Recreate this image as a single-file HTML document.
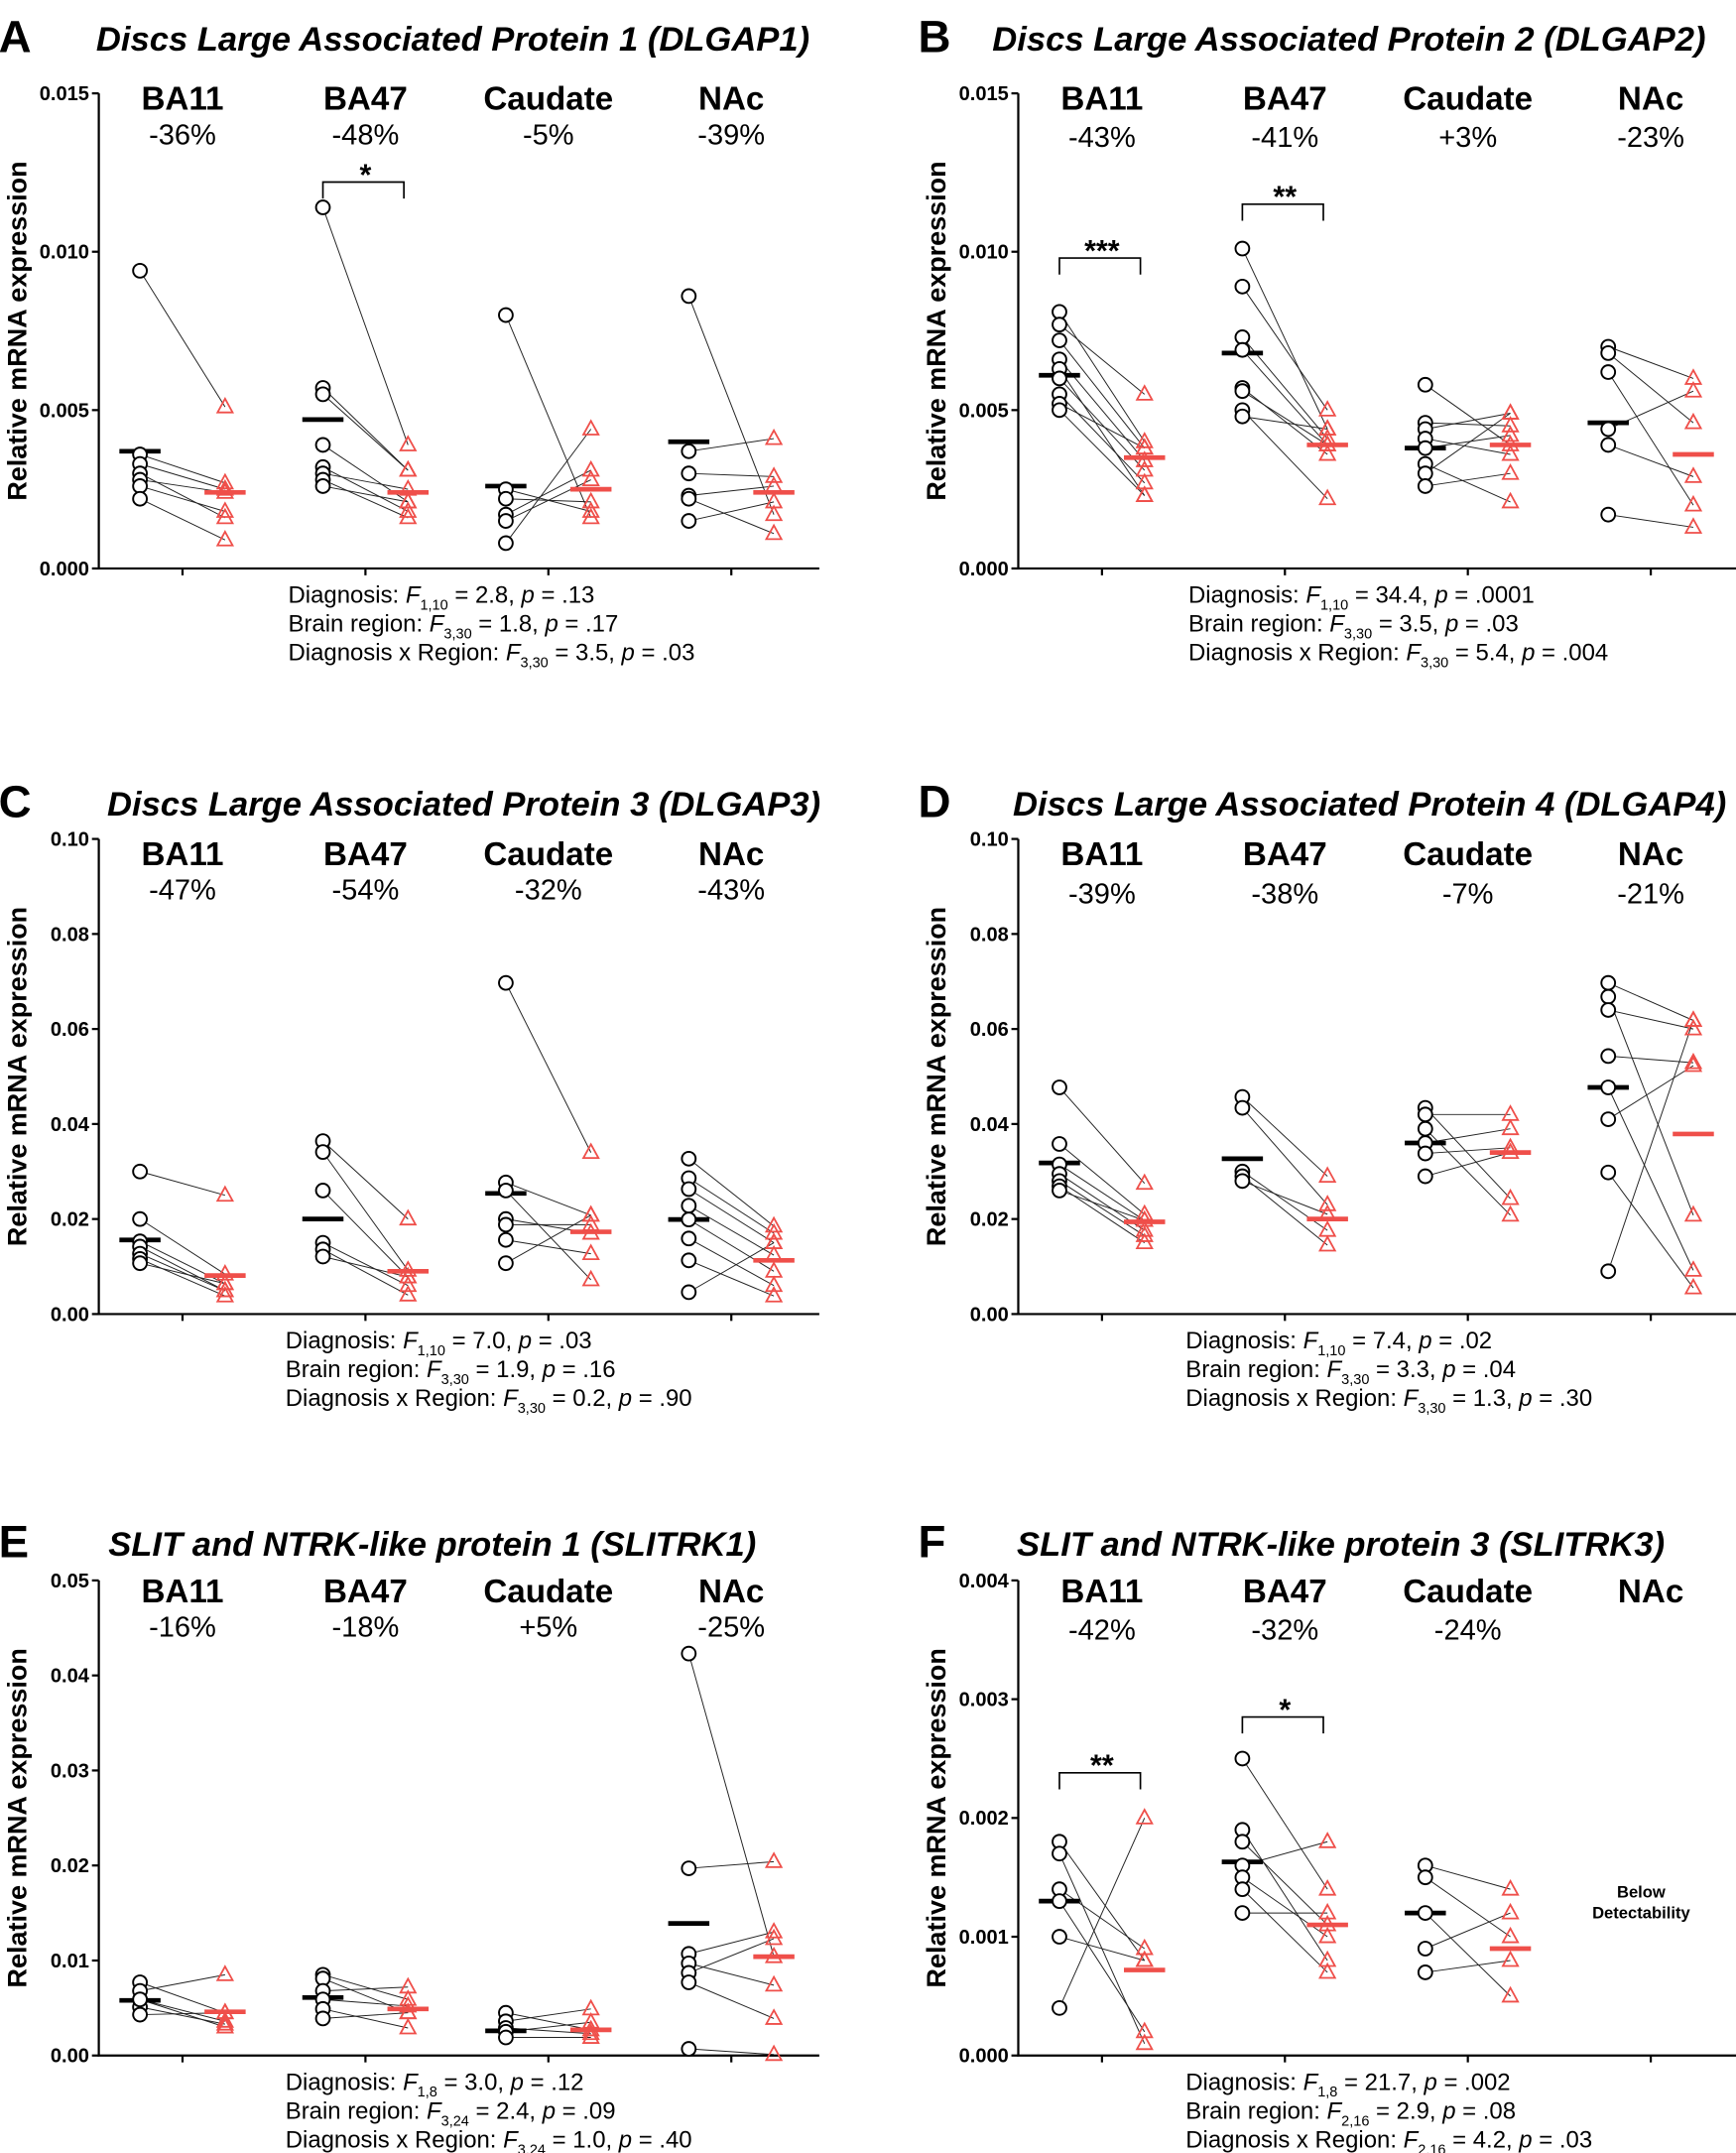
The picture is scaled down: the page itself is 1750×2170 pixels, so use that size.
<!DOCTYPE html>
<html><head><meta charset="utf-8"><style>
html,body{margin:0;padding:0;background:#fff}
svg{display:block}
text{font-family:"Liberation Sans",Arial,sans-serif}
</style></head><body>
<svg id="fig" width="1750" height="2170" viewBox="0 0 1265 1568" preserveAspectRatio="none" xmlns="http://www.w3.org/2000/svg"></svg>
<script>
// ---- data ----
const regions = ["BA11","BA47","Caudate","NAc"];
const titles = ["Discs Large Associated Protein 1 (DLGAP1)","Discs Large Associated Protein 2 (DLGAP2)","Discs Large Associated Protein 3 (DLGAP3)","Discs Large Associated Protein 4 (DLGAP4)","SLIT and NTRK-like protein 1 (SLITRK1)","SLIT and NTRK-like protein 3 (SLITRK3)"];
const letters = ["A","B","C","D","E","F"];
const pctA = ["-36%","-48%","-5%","-39%"];
const pctB = ["-43%","-41%","+3%","-23%"];
const pctC = ["-47%","-54%","-32%","-43%"];
const pctD = ["-39%","-38%","-7%","-21%"];
const pctE = ["-16%","-18%","+5%","-25%"];
const pctF = ["-42%","-32%","-24%",""];
const ticksA = [0,0.005,0.010,0.015];
const tickLabA = ["0.000","0.005","0.010","0.015"];
const ticksC = [0,0.02,0.04,0.06,0.08,0.10];
const tickLabC = ["0.00","0.02","0.04","0.06","0.08","0.10"];
const ticksE = [0,0.01,0.02,0.03,0.04,0.05];
const tickLabE = ["0.00","0.01","0.02","0.03","0.04","0.05"];
const ticksF = [0,0.001,0.002,0.003,0.004];
const tickLabF = ["0.000","0.001","0.002","0.003","0.004"];
const ctrlA = [[0.0094,0.0036,0.0033,0.0030,0.0028,0.0026,0.0022],[0.0114,0.0057,0.0055,0.0039,0.0032,0.0030,0.0028,0.0026],[0.0080,0.0025,0.0022,0.0017,0.0015,0.0008],[0.0086,0.0037,0.0030,0.0023,0.0022,0.0015]];
const patA  = [[0.0051,0.0027,0.0025,0.0016,0.0024,0.0018,0.0009],[0.0039,0.0031,0.0031,0.0021,0.0018,0.0025,0.0016,0.0021],[0.0016,0.0018,0.0021,0.0031,0.0028,0.0044],[0.0017,0.0041,0.0029,0.0026,0.0011,0.0021]];
const meanCA = [0.0037,0.0047,0.0026,0.0040];
const meanPA = [0.0024,0.0024,0.0025,0.0024];
const ctrlB = [[0.0081,0.0077,0.0072,0.0066,0.0063,0.0060,0.0055,0.0052,0.0050],[0.0101,0.0089,0.0073,0.0069,0.0057,0.0056,0.0050,0.0048],[0.0058,0.0046,0.0044,0.0041,0.0038,0.0033,0.0030,0.0026],[0.0070,0.0068,0.0062,0.0044,0.0039,0.0017]];
const patB  = [[0.0040,0.0055,0.0038,0.0034,0.0023,0.0031,0.0027,0.0038,0.0023],[0.0044,0.0050,0.0041,0.0039,0.0036,0.0039,0.0022,0.0044],[0.0039,0.0045,0.0049,0.0036,0.0042,0.0021,0.0049,0.0030],[0.0060,0.0046,0.0020,0.0056,0.0029,0.0013]];
const meanCB = [0.0061,0.0068,0.0038,0.0046];
const meanPB = [0.0035,0.0039,0.0039,0.0036];
const ctrlC = [[0.030,0.020,0.0153,0.0142,0.0127,0.0116,0.0107],[0.0364,0.0341,0.026,0.015,0.0136,0.0121],[0.0697,0.0277,0.026,0.020,0.0188,0.0156,0.0107],[0.0327,0.0286,0.0263,0.0228,0.0199,0.0159,0.0113,0.0046]];
const patC  = [[0.025,0.0084,0.0064,0.0049,0.0049,0.0038,0.0064],[0.020,0.0092,0.0078,0.006,0.004,0.0078],[0.034,0.0208,0.0072,0.017,0.0188,0.0127,0.0208],[0.0185,0.017,0.015,0.0124,0.009,0.006,0.0038,0.015]];
const meanCC = [0.0156,0.020,0.0254,0.0199];
const meanPC = [0.0081,0.009,0.0173,0.0113];
const ctrlD = [[0.0477,0.0358,0.0315,0.0295,0.028,0.0269,0.026],[0.0457,0.0434,0.030,0.029,0.028],[0.0434,0.042,0.039,0.036,0.0338,0.029],[0.0697,0.0668,0.064,0.0543,0.0477,0.041,0.0298,0.009]];
const patD  = [[0.0275,0.021,0.0197,0.0176,0.0165,0.015,0.0197],[0.029,0.023,0.0176,0.0145,0.021],[0.0243,0.042,0.0208,0.039,0.035,0.034],[0.0618,0.0208,0.060,0.0529,0.0092,0.0523,0.0055,0.0618]];
const meanCD = [0.0318,0.0327,0.036,0.0477];
const meanPD = [0.0194,0.020,0.034,0.0379];
const ctrlE = [[0.0077,0.0068,0.0059,0.0051,0.0043,0.0059],[0.0085,0.0081,0.0068,0.0059,0.0049,0.0039],[0.0045,0.0036,0.0029,0.0025,0.0019],[0.0423,0.0197,0.0107,0.0097,0.0087,0.0077,0.0007]];
const patE  = [[0.0045,0.0085,0.0036,0.0033,0.0045,0.0030],[0.0059,0.0045,0.0072,0.0052,0.0029,0.0045],[0.0027,0.0049,0.0023,0.0035,0.0019],[0.0104,0.0204,0.0130,0.0074,0.0123,0.0039,0.0001]];
const meanCE = [0.0058,0.0061,0.0026,0.0139];
const meanPE = [0.0046,0.0049,0.0027,0.0104];
const ctrlF = [[0.0018,0.0017,0.0014,0.0013,0.0010,0.0004],[0.0025,0.0019,0.0018,0.0016,0.0015,0.0014,0.0012],[0.0016,0.0015,0.0012,0.0009,0.0007],[]];
const patF  = [[0.0008,0.0001,0.0009,0.0002,0.0008,0.0020],[0.0014,0.0008,0.0011,0.0018,0.0010,0.0007,0.0012],[0.0014,0.0010,0.0005,0.0012,0.0008],[]];
const meanCF = [0.0013,0.00163,0.0012,null];
const meanPF = [0.00072,0.0011,0.0009,null];
const statsA = [["1,10","2.8",".13"],["3,30","1.8",".17"],["3,30","3.5",".03"]];
const statsB = [["1,10","34.4",".0001"],["3,30","3.5",".03"],["3,30","5.4",".004"]];
const statsC = [["1,10","7.0",".03"],["3,30","1.9",".16"],["3,30","0.2",".90"]];
const statsD = [["1,10","7.4",".02"],["3,30","3.3",".04"],["3,30","1.3",".30"]];
const statsE = [["1,8","3.0",".12"],["3,24","2.4",".09"],["3,24","1.0",".40"]];
const statsF = [["1,8","21.7",".002"],["2,16","2.9",".08"],["2,16","4.2",".03"]];
const sigA = [null,"*",null,null];
const sigB = ["***","**",null,null];
const sigF = ["**","*",null,null];
const sigY = {A:[null,0.0122,null,null],B:[0.0098,0.0115,null,null],F:[0.00238,0.00285,null,null]};

// ---- drawing ----
const NS="http://www.w3.org/2000/svg";
const svg=document.getElementById('fig');
function mk(tag,attrs,parent){const e=document.createElementNS(NS,tag);for(const k in attrs)e.setAttribute(k,attrs[k]);(parent||svg).appendChild(e);return e;}
const RED="#ef4f4a";
// layout: [titleY, labelOffset, pctOffset, statsX, titleCenterX]
function panel(idx,ax,top,ymax,ticks,tickLab,pct,ctrl,pat,mC,mP,stats,sig,sy,lay){
  const L=letters[idx];
  const g=mk('g',{});
  
  
  const H=346, bottom=top+H, W=525;
  const y=v=>bottom-v/ymax*H;
  const xc=i=>ax+30+i*133.3, xp=i=>ax+92+i*133.3;
  let t=mk('text',{x:ax-73,y:lay[0]+10,'font-size':33,'font-weight':'bold'},g);t.textContent=L;
  
  t=mk('text',{x:lay[4],y:lay[0]+9,'font-size':25,'font-weight':'bold','font-style':'italic','text-anchor':'middle'},g);t.textContent=titles[idx];
  
  let a=mk('path',{d:`M${ax} ${top} V${bottom} H${ax+W}`,stroke:'#000','stroke-width':1.6,fill:'none'},g);
  
  ticks.forEach((v,i)=>{
    mk('line',{x1:ax-5,x2:ax,y1:y(v),y2:y(v),stroke:'#000','stroke-width':1.6},g);
    const tl=mk('text',{x:ax-7,y:y(v)+5,'font-size':14.5,'font-weight':'bold','text-anchor':'end'},g);tl.textContent=tickLab[i];
    
  });
  const yt=mk('text',{transform:`translate(${ax-53},${top+173}) rotate(-90)`,'font-size':19.5,'font-weight':'bold','text-anchor':'middle'},g);
  yt.textContent='Relative mRNA expression';
  
  regions.forEach((r,i)=>{
    const cx=(xc(i)+xp(i))/2;
    mk('line',{x1:cx,x2:cx,y1:bottom,y2:bottom+5,stroke:'#000','stroke-width':1.6},g);
    const rl=mk('text',{x:cx,y:top+lay[1],'font-size':24,'font-weight':'bold','text-anchor':'middle'},g);rl.textContent=r;
    
    const pl=mk('text',{x:cx,y:top+lay[2],'font-size':21,'text-anchor':'middle'},g);pl.textContent=pct[i];
    
    ctrl[i].forEach((v,j)=>{
      const ln=mk('line',{x1:xc(i),y1:y(v),x2:xp(i),y2:y(pat[i][j]),stroke:'#222','stroke-width':0.7},g);
      
    });
    if(mC[i]!=null){
      const mb=mk('line',{x1:xc(i)-15,x2:xc(i)+15,y1:y(mC[i]),y2:y(mC[i]),stroke:'#000','stroke-width':3.4},g);
      
      const mp=mk('line',{x1:xp(i)-15,x2:xp(i)+15,y1:y(mP[i]),y2:y(mP[i]),stroke:RED,'stroke-width':3.4},g);
      
    }
    ctrl[i].forEach(v=>{
      const c=mk('circle',{cx:xc(i),cy:y(v),r:5,fill:'#fff',stroke:'#000','stroke-width':1.4},g);
      
    });
    pat[i].forEach(v=>{
      const yy=y(v),x=xp(i);
      const p=mk('path',{d:`M${x} ${yy-6} L${x+5.5} ${yy+4} L${x-5.5} ${yy+4} Z`,fill:'none',stroke:RED,'stroke-width':1.3},g);
      
    });
    if(sig&&sig[i]){
      const by=y(sy[i]);
      const br=mk('path',{d:`M${xc(i)} ${by+12} V${by} H${xp(i)-3} V${by+12}`,stroke:'#000','stroke-width':1.2,fill:'none'},g);
      
      const st=mk('text',{x:(xc(i)+xp(i))/2,y:by+2,'font-size':22,'font-weight':'bold','text-anchor':'middle'},g);st.textContent=sig[i];
      
    }
  });
  if(!ctrl[3].length){
    const bx=xc(3)+24;
    const bd=mk('text',{x:bx,y:y(0.00133),'font-size':12,'font-weight':'bold','text-anchor':'middle'},g);
    bd.innerHTML='<tspan x="'+bx+'">Below</tspan><tspan x="'+bx+'" dy="15">Detectability</tspan>';
    
  }
  const pre=["Diagnosis: ","Brain region: ","Diagnosis x Region: "];
  stats.forEach((s,k)=>{
    const st=mk('text',{x:lay[3],y:bottom+25+k*21,'font-size':17.3},g);
    st.innerHTML=pre[k]+'<tspan font-style="italic">F</tspan><tspan font-size="10.5" dy="5">'+s[0]+'</tspan><tspan dy="-5"> = '+s[1]+', </tspan><tspan font-style="italic">p</tspan> = '+s[2];
    
  });
}
panel(0,72,68,0.015,ticksA,tickLabA,pctA,ctrlA,patA,meanCA,meanPA,statsA,sigA,sigY.A,[28,12,37,210,330]);
panel(1,742,68,0.015,ticksA,tickLabA,pctB,ctrlB,patB,meanCB,meanPB,statsB,sigB,sigY.B,[28,12,39,866,983]);
panel(2,72,611,0.10,ticksC,tickLabC,pctC,ctrlC,patC,meanCC,meanPC,statsC,null,null,[585,19,44,208,338]);
panel(3,742,611,0.10,ticksC,tickLabC,pctD,ctrlD,patD,meanCD,meanPD,statsD,null,null,[585,19,47,864,998]);
panel(4,72,1151,0.05,ticksE,tickLabE,pctE,ctrlE,patE,meanCE,meanPE,statsE,null,null,[1124,16,41,208,315]);
panel(5,742,1151,0.004,ticksF,tickLabF,pctF,ctrlF,patF,meanCF,meanPF,statsF,sigF,sigY.F,[1124,16,43,864,977]);
</script>
</body></html>
